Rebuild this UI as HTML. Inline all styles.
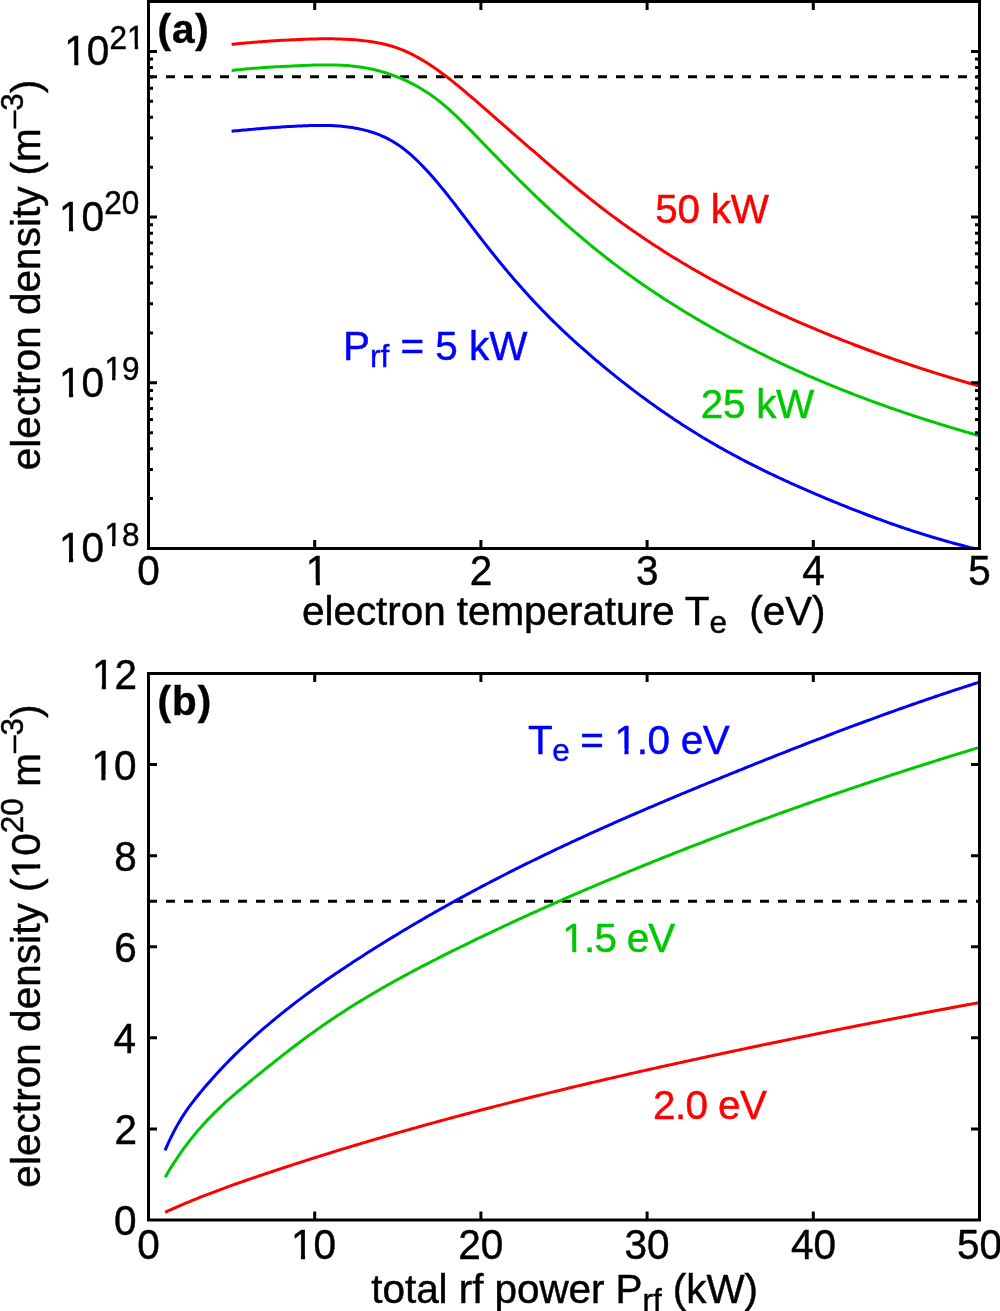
<!DOCTYPE html><html><head><meta charset="utf-8"><title>electron density plots</title><style>html,body{margin:0;padding:0;background:#fff;overflow:hidden;}svg{display:block;will-change:transform;}</style></head><body>
<svg width="1000" height="1311" viewBox="0 0 1000 1311" font-family='"Liberation Sans", sans-serif'>
<defs><clipPath id="ca"><rect x="150" y="3" width="828" height="544"/></clipPath><clipPath id="cb"><rect x="150" y="675" width="828" height="544"/></clipPath></defs>
<g clip-path="url(#ca)" fill="none" stroke-width="3" stroke-linejoin="round">
<path d="M148,76.8 H980" stroke="#000" stroke-dasharray="9 9"/>
<path d="M231.60,44.36 L233.60,44.15 L235.60,43.95 L237.60,43.75 L239.60,43.56 L241.60,43.36 L243.60,43.18 L245.60,42.99 L247.60,42.82 L249.60,42.64 L251.60,42.47 L253.60,42.30 L255.60,42.14 L257.60,41.98 L259.60,41.82 L261.60,41.67 L263.60,41.52 L265.60,41.38 L267.60,41.24 L269.60,41.10 L271.60,40.96 L273.60,40.83 L275.60,40.71 L277.60,40.58 L279.60,40.46 L281.60,40.35 L283.60,40.24 L285.60,40.13 L287.60,40.02 L289.60,39.92 L291.60,39.82 L293.60,39.73 L295.60,39.64 L297.60,39.55 L299.60,39.46 L301.60,39.38 L303.60,39.30 L305.60,39.23 L307.60,39.16 L309.60,39.10 L311.60,39.04 L313.60,38.98 L315.60,38.93 L317.60,38.89 L319.60,38.86 L321.60,38.83 L323.60,38.81 L325.60,38.80 L327.60,38.80 L329.60,38.80 L331.60,38.82 L333.60,38.84 L335.60,38.88 L337.60,38.92 L339.60,38.98 L341.60,39.05 L343.60,39.13 L345.60,39.22 L347.60,39.32 L349.60,39.44 L351.60,39.57 L353.60,39.71 L355.60,39.86 L357.60,40.04 L359.60,40.22 L361.60,40.42 L363.60,40.64 L365.60,40.87 L367.60,41.13 L369.60,41.40 L371.60,41.70 L373.60,42.02 L375.60,42.36 L377.60,42.73 L379.60,43.13 L381.60,43.55 L383.60,44.00 L385.60,44.49 L387.60,45.01 L389.60,45.56 L391.60,46.14 L393.60,46.76 L395.60,47.42 L397.60,48.12 L399.60,48.86 L401.60,49.64 L403.60,50.46 L405.60,51.32 L407.60,52.23 L409.60,53.17 L411.60,54.15 L413.60,55.16 L415.60,56.22 L417.60,57.31 L419.60,58.43 L421.60,59.59 L423.60,60.78 L425.60,62.01 L427.60,63.27 L429.60,64.56 L431.60,65.88 L433.60,67.23 L435.60,68.61 L437.60,70.02 L439.60,71.45 L441.60,72.92 L443.60,74.41 L445.60,75.92 L447.60,77.46 L449.60,79.02 L451.60,80.60 L453.60,82.20 L455.60,83.81 L457.60,85.45 L459.60,87.10 L461.60,88.76 L463.60,90.44 L465.60,92.13 L467.60,93.83 L469.60,95.54 L471.60,97.25 L473.60,98.98 L475.60,100.71 L477.60,102.44 L479.60,104.18 L481.60,105.91 L483.60,107.65 L485.60,109.39 L487.60,111.13 L489.60,112.88 L491.60,114.62 L493.60,116.36 L495.60,118.11 L497.60,119.85 L499.60,121.60 L501.60,123.34 L503.60,125.09 L505.60,126.83 L507.60,128.58 L509.60,130.33 L511.60,132.07 L513.60,133.82 L515.60,135.56 L517.60,137.31 L519.60,139.05 L521.60,140.80 L523.60,142.54 L525.60,144.28 L527.60,146.02 L529.60,147.76 L531.60,149.50 L533.60,151.24 L535.60,152.98 L537.60,154.71 L539.60,156.44 L541.60,158.18 L543.60,159.90 L545.60,161.63 L547.60,163.35 L549.60,165.07 L551.60,166.78 L553.60,168.49 L555.60,170.20 L557.60,171.90 L559.60,173.60 L561.60,175.29 L563.60,176.98 L565.60,178.66 L567.60,180.34 L569.60,182.01 L571.60,183.68 L573.60,185.34 L575.60,186.99 L577.60,188.64 L579.60,190.28 L581.60,191.91 L583.60,193.53 L585.60,195.15 L587.60,196.76 L589.60,198.36 L591.60,199.95 L593.60,201.53 L595.60,203.10 L597.60,204.67 L599.60,206.22 L601.60,207.77 L603.60,209.30 L605.60,210.83 L607.60,212.35 L609.60,213.85 L611.60,215.35 L613.60,216.84 L615.60,218.32 L617.60,219.79 L619.60,221.25 L621.60,222.70 L623.60,224.14 L625.60,225.57 L627.60,226.99 L629.60,228.41 L631.60,229.81 L633.60,231.21 L635.60,232.60 L637.60,233.98 L639.60,235.35 L641.60,236.71 L643.60,238.06 L645.60,239.41 L647.60,240.75 L649.60,242.08 L651.60,243.40 L653.60,244.71 L655.60,246.01 L657.60,247.31 L659.60,248.60 L661.60,249.88 L663.60,251.15 L665.60,252.41 L667.60,253.67 L669.60,254.92 L671.60,256.16 L673.60,257.40 L675.60,258.62 L677.60,259.84 L679.60,261.05 L681.60,262.26 L683.60,263.45 L685.60,264.64 L687.60,265.83 L689.60,267.00 L691.60,268.17 L693.60,269.33 L695.60,270.49 L697.60,271.64 L699.60,272.78 L701.60,273.91 L703.60,275.04 L705.60,276.16 L707.60,277.28 L709.60,278.39 L711.60,279.49 L713.60,280.59 L715.60,281.68 L717.60,282.76 L719.60,283.84 L721.60,284.91 L723.60,285.97 L725.60,287.03 L727.60,288.08 L729.60,289.13 L731.60,290.17 L733.60,291.21 L735.60,292.24 L737.60,293.26 L739.60,294.28 L741.60,295.29 L743.60,296.30 L745.60,297.30 L747.60,298.29 L749.60,299.28 L751.60,300.27 L753.60,301.25 L755.60,302.22 L757.60,303.19 L759.60,304.16 L761.60,305.11 L763.60,306.07 L765.60,307.02 L767.60,307.96 L769.60,308.90 L771.60,309.83 L773.60,310.76 L775.60,311.68 L777.60,312.60 L779.60,313.52 L781.60,314.43 L783.60,315.33 L785.60,316.23 L787.60,317.13 L789.60,318.02 L791.60,318.91 L793.60,319.79 L795.60,320.67 L797.60,321.54 L799.60,322.41 L801.60,323.28 L803.60,324.14 L805.60,325.00 L807.60,325.85 L809.60,326.71 L811.60,327.55 L813.60,328.39 L815.60,329.23 L817.60,330.07 L819.60,330.90 L821.60,331.73 L823.60,332.55 L825.60,333.37 L827.60,334.19 L829.60,335.00 L831.60,335.81 L833.60,336.61 L835.60,337.42 L837.60,338.22 L839.60,339.01 L841.60,339.80 L843.60,340.59 L845.60,341.37 L847.60,342.16 L849.60,342.93 L851.60,343.71 L853.60,344.48 L855.60,345.24 L857.60,346.01 L859.60,346.77 L861.60,347.52 L863.60,348.27 L865.60,349.02 L867.60,349.77 L869.60,350.51 L871.60,351.25 L873.60,351.98 L875.60,352.72 L877.60,353.44 L879.60,354.17 L881.60,354.89 L883.60,355.61 L885.60,356.32 L887.60,357.03 L889.60,357.74 L891.60,358.44 L893.60,359.14 L895.60,359.84 L897.60,360.53 L899.60,361.22 L901.60,361.91 L903.60,362.59 L905.60,363.27 L907.60,363.95 L909.60,364.62 L911.60,365.29 L913.60,365.96 L915.60,366.62 L917.60,367.28 L919.60,367.94 L921.60,368.59 L923.60,369.24 L925.60,369.89 L927.60,370.53 L929.60,371.17 L931.60,371.80 L933.60,372.44 L935.60,373.07 L937.60,373.69 L939.60,374.32 L941.60,374.93 L943.60,375.55 L945.60,376.16 L947.60,376.77 L949.60,377.38 L951.60,377.98 L953.60,378.58 L955.60,379.18 L957.60,379.77 L959.60,380.36 L961.60,380.95 L963.60,381.53 L965.60,382.11 L967.60,382.69 L969.60,383.26 L971.60,383.83 L973.60,384.40 L975.60,384.96 L977.60,385.52 L979.50,386.05" stroke="#ff0000"/>
<path d="M231.60,70.48 L233.60,70.26 L235.60,70.04 L237.60,69.83 L239.60,69.62 L241.60,69.42 L243.60,69.23 L245.60,69.04 L247.60,68.86 L249.60,68.69 L251.60,68.52 L253.60,68.35 L255.60,68.19 L257.60,68.04 L259.60,67.89 L261.60,67.75 L263.60,67.61 L265.60,67.47 L267.60,67.34 L269.60,67.22 L271.60,67.09 L273.60,66.97 L275.60,66.86 L277.60,66.74 L279.60,66.64 L281.60,66.53 L283.60,66.42 L285.60,66.32 L287.60,66.22 L289.60,66.13 L291.60,66.03 L293.60,65.94 L295.60,65.85 L297.60,65.76 L299.60,65.67 L301.60,65.58 L303.60,65.50 L305.60,65.41 L307.60,65.33 L309.60,65.26 L311.60,65.19 L313.60,65.12 L315.60,65.06 L317.60,65.01 L319.60,64.97 L321.60,64.93 L323.60,64.90 L325.60,64.89 L327.60,64.88 L329.60,64.89 L331.60,64.91 L333.60,64.94 L335.60,64.99 L337.60,65.05 L339.60,65.13 L341.60,65.22 L343.60,65.33 L345.60,65.46 L347.60,65.61 L349.60,65.77 L351.60,65.96 L353.60,66.17 L355.60,66.40 L357.60,66.65 L359.60,66.92 L361.60,67.22 L363.60,67.55 L365.60,67.89 L367.60,68.27 L369.60,68.67 L371.60,69.09 L373.60,69.54 L375.60,70.02 L377.60,70.52 L379.60,71.05 L381.60,71.61 L383.60,72.19 L385.60,72.80 L387.60,73.44 L389.60,74.11 L391.60,74.80 L393.60,75.53 L395.60,76.28 L397.60,77.06 L399.60,77.87 L401.60,78.71 L403.60,79.58 L405.60,80.49 L407.60,81.42 L409.60,82.39 L411.60,83.39 L413.60,84.43 L415.60,85.50 L417.60,86.61 L419.60,87.76 L421.60,88.94 L423.60,90.17 L425.60,91.43 L427.60,92.74 L429.60,94.08 L431.60,95.47 L433.60,96.91 L435.60,98.38 L437.60,99.91 L439.60,101.48 L441.60,103.09 L443.60,104.75 L445.60,106.46 L447.60,108.20 L449.60,109.98 L451.60,111.80 L453.60,113.65 L455.60,115.53 L457.60,117.45 L459.60,119.38 L461.60,121.34 L463.60,123.33 L465.60,125.33 L467.60,127.34 L469.60,129.38 L471.60,131.42 L473.60,133.47 L475.60,135.53 L477.60,137.60 L479.60,139.67 L481.60,141.73 L483.60,143.80 L485.60,145.86 L487.60,147.93 L489.60,149.99 L491.60,152.05 L493.60,154.10 L495.60,156.16 L497.60,158.21 L499.60,160.26 L501.60,162.30 L503.60,164.34 L505.60,166.37 L507.60,168.40 L509.60,170.42 L511.60,172.44 L513.60,174.45 L515.60,176.46 L517.60,178.46 L519.60,180.45 L521.60,182.43 L523.60,184.41 L525.60,186.38 L527.60,188.34 L529.60,190.29 L531.60,192.23 L533.60,194.16 L535.60,196.09 L537.60,198.00 L539.60,199.91 L541.60,201.80 L543.60,203.69 L545.60,205.56 L547.60,207.43 L549.60,209.29 L551.60,211.14 L553.60,212.97 L555.60,214.80 L557.60,216.62 L559.60,218.43 L561.60,220.23 L563.60,222.02 L565.60,223.79 L567.60,225.56 L569.60,227.32 L571.60,229.07 L573.60,230.81 L575.60,232.54 L577.60,234.25 L579.60,235.96 L581.60,237.66 L583.60,239.34 L585.60,241.02 L587.60,242.68 L589.60,244.34 L591.60,245.98 L593.60,247.62 L595.60,249.24 L597.60,250.85 L599.60,252.45 L601.60,254.04 L603.60,255.62 L605.60,257.19 L607.60,258.75 L609.60,260.29 L611.60,261.83 L613.60,263.36 L615.60,264.87 L617.60,266.38 L619.60,267.87 L621.60,269.36 L623.60,270.84 L625.60,272.30 L627.60,273.76 L629.60,275.21 L631.60,276.64 L633.60,278.07 L635.60,279.49 L637.60,280.90 L639.60,282.30 L641.60,283.69 L643.60,285.08 L645.60,286.45 L647.60,287.81 L649.60,289.17 L651.60,290.52 L653.60,291.86 L655.60,293.19 L657.60,294.51 L659.60,295.83 L661.60,297.13 L663.60,298.43 L665.60,299.72 L667.60,301.00 L669.60,302.28 L671.60,303.55 L673.60,304.81 L675.60,306.06 L677.60,307.31 L679.60,308.54 L681.60,309.78 L683.60,311.00 L685.60,312.22 L687.60,313.43 L689.60,314.63 L691.60,315.83 L693.60,317.02 L695.60,318.20 L697.60,319.38 L699.60,320.55 L701.60,321.72 L703.60,322.88 L705.60,324.03 L707.60,325.18 L709.60,326.32 L711.60,327.45 L713.60,328.58 L715.60,329.71 L717.60,330.82 L719.60,331.94 L721.60,333.04 L723.60,334.14 L725.60,335.24 L727.60,336.32 L729.60,337.41 L731.60,338.48 L733.60,339.55 L735.60,340.62 L737.60,341.68 L739.60,342.73 L741.60,343.78 L743.60,344.82 L745.60,345.86 L747.60,346.89 L749.60,347.92 L751.60,348.94 L753.60,349.95 L755.60,350.96 L757.60,351.97 L759.60,352.97 L761.60,353.96 L763.60,354.95 L765.60,355.93 L767.60,356.91 L769.60,357.88 L771.60,358.85 L773.60,359.81 L775.60,360.76 L777.60,361.72 L779.60,362.66 L781.60,363.60 L783.60,364.54 L785.60,365.47 L787.60,366.40 L789.60,367.32 L791.60,368.23 L793.60,369.14 L795.60,370.05 L797.60,370.95 L799.60,371.85 L801.60,372.74 L803.60,373.63 L805.60,374.51 L807.60,375.38 L809.60,376.26 L811.60,377.12 L813.60,377.99 L815.60,378.85 L817.60,379.70 L819.60,380.55 L821.60,381.39 L823.60,382.23 L825.60,383.07 L827.60,383.90 L829.60,384.72 L831.60,385.54 L833.60,386.36 L835.60,387.17 L837.60,387.98 L839.60,388.79 L841.60,389.59 L843.60,390.38 L845.60,391.17 L847.60,391.96 L849.60,392.74 L851.60,393.52 L853.60,394.29 L855.60,395.06 L857.60,395.83 L859.60,396.59 L861.60,397.35 L863.60,398.10 L865.60,398.85 L867.60,399.60 L869.60,400.34 L871.60,401.08 L873.60,401.81 L875.60,402.54 L877.60,403.27 L879.60,403.99 L881.60,404.71 L883.60,405.42 L885.60,406.14 L887.60,406.84 L889.60,407.55 L891.60,408.25 L893.60,408.94 L895.60,409.64 L897.60,410.32 L899.60,411.01 L901.60,411.69 L903.60,412.37 L905.60,413.05 L907.60,413.72 L909.60,414.39 L911.60,415.05 L913.60,415.71 L915.60,416.37 L917.60,417.03 L919.60,417.68 L921.60,418.32 L923.60,418.97 L925.60,419.61 L927.60,420.25 L929.60,420.89 L931.60,421.52 L933.60,422.15 L935.60,422.77 L937.60,423.40 L939.60,424.02 L941.60,424.63 L943.60,425.25 L945.60,425.86 L947.60,426.47 L949.60,427.07 L951.60,427.68 L953.60,428.28 L955.60,428.87 L957.60,429.47 L959.60,430.06 L961.60,430.65 L963.60,431.23 L965.60,431.82 L967.60,432.40 L969.60,432.98 L971.60,433.55 L973.60,434.12 L975.60,434.69 L977.60,435.26 L979.50,435.80" stroke="#00c800"/>
<path d="M231.60,131.22 L233.60,131.03 L235.60,130.84 L237.60,130.65 L239.60,130.46 L241.60,130.27 L243.60,130.09 L245.60,129.90 L247.60,129.72 L249.60,129.54 L251.60,129.37 L253.60,129.19 L255.60,129.02 L257.60,128.84 L259.60,128.68 L261.60,128.51 L263.60,128.34 L265.60,128.18 L267.60,128.03 L269.60,127.87 L271.60,127.72 L273.60,127.57 L275.60,127.42 L277.60,127.28 L279.60,127.14 L281.60,127.01 L283.60,126.87 L285.60,126.75 L287.60,126.62 L289.60,126.50 L291.60,126.39 L293.60,126.28 L295.60,126.17 L297.60,126.07 L299.60,125.97 L301.60,125.88 L303.60,125.79 L305.60,125.71 L307.60,125.64 L309.60,125.57 L311.60,125.51 L313.60,125.46 L315.60,125.43 L317.60,125.40 L319.60,125.39 L321.60,125.39 L323.60,125.40 L325.60,125.43 L327.60,125.47 L329.60,125.53 L331.60,125.61 L333.60,125.70 L335.60,125.82 L337.60,125.95 L339.60,126.11 L341.60,126.28 L343.60,126.48 L345.60,126.70 L347.60,126.94 L349.60,127.21 L351.60,127.51 L353.60,127.83 L355.60,128.18 L357.60,128.56 L359.60,128.96 L361.60,129.40 L363.60,129.87 L365.60,130.37 L367.60,130.90 L369.60,131.48 L371.60,132.09 L373.60,132.74 L375.60,133.44 L377.60,134.18 L379.60,134.97 L381.60,135.81 L383.60,136.70 L385.60,137.64 L387.60,138.64 L389.60,139.69 L391.60,140.80 L393.60,141.97 L395.60,143.21 L397.60,144.51 L399.60,145.87 L401.60,147.31 L403.60,148.81 L405.60,150.37 L407.60,152.00 L409.60,153.69 L411.60,155.44 L413.60,157.25 L415.60,159.11 L417.60,161.03 L419.60,163.00 L421.60,165.03 L423.60,167.10 L425.60,169.21 L427.60,171.37 L429.60,173.58 L431.60,175.82 L433.60,178.11 L435.60,180.43 L437.60,182.79 L439.60,185.18 L441.60,187.61 L443.60,190.06 L445.60,192.54 L447.60,195.05 L449.60,197.58 L451.60,200.13 L453.60,202.70 L455.60,205.28 L457.60,207.88 L459.60,210.49 L461.60,213.11 L463.60,215.74 L465.60,218.37 L467.60,221.00 L469.60,223.63 L471.60,226.27 L473.60,228.89 L475.60,231.52 L477.60,234.13 L479.60,236.73 L481.60,239.32 L483.60,241.89 L485.60,244.45 L487.60,247.00 L489.60,249.53 L491.60,252.04 L493.60,254.55 L495.60,257.03 L497.60,259.50 L499.60,261.96 L501.60,264.39 L503.60,266.82 L505.60,269.22 L507.60,271.61 L509.60,273.98 L511.60,276.34 L513.60,278.68 L515.60,281.00 L517.60,283.30 L519.60,285.58 L521.60,287.85 L523.60,290.09 L525.60,292.32 L527.60,294.53 L529.60,296.72 L531.60,298.89 L533.60,301.05 L535.60,303.18 L537.60,305.29 L539.60,307.39 L541.60,309.47 L543.60,311.53 L545.60,313.57 L547.60,315.60 L549.60,317.61 L551.60,319.60 L553.60,321.57 L555.60,323.53 L557.60,325.48 L559.60,327.41 L561.60,329.32 L563.60,331.22 L565.60,333.10 L567.60,334.97 L569.60,336.83 L571.60,338.67 L573.60,340.50 L575.60,342.32 L577.60,344.12 L579.60,345.91 L581.60,347.69 L583.60,349.45 L585.60,351.21 L587.60,352.95 L589.60,354.68 L591.60,356.40 L593.60,358.11 L595.60,359.81 L597.60,361.50 L599.60,363.18 L601.60,364.86 L603.60,366.52 L605.60,368.17 L607.60,369.81 L609.60,371.45 L611.60,373.07 L613.60,374.69 L615.60,376.30 L617.60,377.89 L619.60,379.48 L621.60,381.06 L623.60,382.63 L625.60,384.19 L627.60,385.74 L629.60,387.28 L631.60,388.82 L633.60,390.34 L635.60,391.85 L637.60,393.36 L639.60,394.85 L641.60,396.34 L643.60,397.82 L645.60,399.29 L647.60,400.75 L649.60,402.20 L651.60,403.64 L653.60,405.07 L655.60,406.49 L657.60,407.90 L659.60,409.31 L661.60,410.70 L663.60,412.09 L665.60,413.47 L667.60,414.84 L669.60,416.19 L671.60,417.54 L673.60,418.88 L675.60,420.22 L677.60,421.54 L679.60,422.85 L681.60,424.16 L683.60,425.45 L685.60,426.74 L687.60,428.01 L689.60,429.28 L691.60,430.54 L693.60,431.79 L695.60,433.03 L697.60,434.26 L699.60,435.49 L701.60,436.70 L703.60,437.91 L705.60,439.10 L707.60,440.29 L709.60,441.47 L711.60,442.64 L713.60,443.80 L715.60,444.95 L717.60,446.10 L719.60,447.24 L721.60,448.36 L723.60,449.49 L725.60,450.60 L727.60,451.70 L729.60,452.80 L731.60,453.89 L733.60,454.97 L735.60,456.05 L737.60,457.12 L739.60,458.18 L741.60,459.23 L743.60,460.27 L745.60,461.31 L747.60,462.35 L749.60,463.37 L751.60,464.39 L753.60,465.40 L755.60,466.41 L757.60,467.41 L759.60,468.40 L761.60,469.39 L763.60,470.37 L765.60,471.34 L767.60,472.31 L769.60,473.28 L771.60,474.23 L773.60,475.19 L775.60,476.13 L777.60,477.07 L779.60,478.01 L781.60,478.94 L783.60,479.86 L785.60,480.78 L787.60,481.70 L789.60,482.61 L791.60,483.51 L793.60,484.41 L795.60,485.31 L797.60,486.20 L799.60,487.09 L801.60,487.97 L803.60,488.85 L805.60,489.72 L807.60,490.59 L809.60,491.46 L811.60,492.32 L813.60,493.18 L815.60,494.04 L817.60,494.89 L819.60,495.74 L821.60,496.58 L823.60,497.42 L825.60,498.26 L827.60,499.09 L829.60,499.92 L831.60,500.75 L833.60,501.58 L835.60,502.40 L837.60,503.21 L839.60,504.03 L841.60,504.84 L843.60,505.64 L845.60,506.44 L847.60,507.24 L849.60,508.04 L851.60,508.83 L853.60,509.61 L855.60,510.39 L857.60,511.17 L859.60,511.95 L861.60,512.72 L863.60,513.48 L865.60,514.25 L867.60,515.00 L869.60,515.76 L871.60,516.51 L873.60,517.25 L875.60,517.99 L877.60,518.73 L879.60,519.46 L881.60,520.19 L883.60,520.92 L885.60,521.63 L887.60,522.35 L889.60,523.06 L891.60,523.76 L893.60,524.47 L895.60,525.16 L897.60,525.85 L899.60,526.54 L901.60,527.22 L903.60,527.90 L905.60,528.57 L907.60,529.24 L909.60,529.90 L911.60,530.56 L913.60,531.21 L915.60,531.86 L917.60,532.50 L919.60,533.14 L921.60,533.78 L923.60,534.40 L925.60,535.03 L927.60,535.64 L929.60,536.25 L931.60,536.86 L933.60,537.46 L935.60,538.06 L937.60,538.65 L939.60,539.23 L941.60,539.81 L943.60,540.39 L945.60,540.96 L947.60,541.52 L949.60,542.08 L951.60,542.63 L953.60,543.18 L955.60,543.72 L957.60,544.25 L959.60,544.78 L961.60,545.31 L963.60,545.82 L965.60,546.34 L967.60,546.84 L969.60,547.34 L971.60,547.84 L973.60,548.32 L975.60,548.81 L977.60,549.28 L979.60,549.75 L980.00,549.85" stroke="#0000ff"/>
</g>
<path d="M314.70,548.5 v-8.5 M314.70,1.5 v8.5 M480.90,548.5 v-8.5 M480.90,1.5 v8.5 M647.10,548.5 v-8.5 M647.10,1.5 v8.5 M813.30,548.5 v-8.5 M813.30,1.5 v8.5 M148.5,498.62 h4.5 M979.5,498.62 h-4.5 M148.5,469.44 h4.5 M979.5,469.44 h-4.5 M148.5,448.74 h4.5 M979.5,448.74 h-4.5 M148.5,432.68 h4.5 M979.5,432.68 h-4.5 M148.5,419.56 h4.5 M979.5,419.56 h-4.5 M148.5,408.46 h4.5 M979.5,408.46 h-4.5 M148.5,398.85 h4.5 M979.5,398.85 h-4.5 M148.5,390.38 h4.5 M979.5,390.38 h-4.5 M148.5,382.79 h8.5 M979.5,382.79 h-8.5 M148.5,332.91 h4.5 M979.5,332.91 h-4.5 M148.5,303.73 h4.5 M979.5,303.73 h-4.5 M148.5,283.03 h4.5 M979.5,283.03 h-4.5 M148.5,266.97 h4.5 M979.5,266.97 h-4.5 M148.5,253.85 h4.5 M979.5,253.85 h-4.5 M148.5,242.76 h4.5 M979.5,242.76 h-4.5 M148.5,233.15 h4.5 M979.5,233.15 h-4.5 M148.5,224.67 h4.5 M979.5,224.67 h-4.5 M148.5,217.09 h8.5 M979.5,217.09 h-8.5 M148.5,167.21 h4.5 M979.5,167.21 h-4.5 M148.5,138.03 h4.5 M979.5,138.03 h-4.5 M148.5,117.32 h4.5 M979.5,117.32 h-4.5 M148.5,101.26 h4.5 M979.5,101.26 h-4.5 M148.5,88.14 h4.5 M979.5,88.14 h-4.5 M148.5,77.05 h4.5 M979.5,77.05 h-4.5 M148.5,67.44 h4.5 M979.5,67.44 h-4.5 M148.5,58.96 h4.5 M979.5,58.96 h-4.5 M148.5,51.38 h8.5 M979.5,51.38 h-8.5" stroke="#000" stroke-width="3" fill="none"/>
<rect x="148.5" y="1.5" width="831.0" height="547.0" fill="none" stroke="#000" stroke-width="3"/>
<g transform="translate(137.24,584.60) scale(1,1.05)"><text font-size="40.5" fill="#000" stroke="#000" stroke-width="0.45">0</text></g>
<g transform="translate(305.87,584.60) scale(1,1.05)"><text font-size="40.5" fill="#000" stroke="#000" stroke-width="0.45">1</text><rect x="1.49" y="-4.60" width="8.40" height="6.69" fill="#fff"/><rect x="14.06" y="-4.60" width="8.08" height="6.69" fill="#fff"/></g>
<g transform="translate(469.64,584.60) scale(1,1.05)"><text font-size="40.5" fill="#000" stroke="#000" stroke-width="0.45">2</text></g>
<g transform="translate(635.96,584.60) scale(1,1.05)"><text font-size="40.5" fill="#000" stroke="#000" stroke-width="0.45">3</text></g>
<g transform="translate(802.17,584.60) scale(1,1.05)"><text font-size="40.5" fill="#000" stroke="#000" stroke-width="0.45">4</text></g>
<g transform="translate(968.28,584.60) scale(1,1.05)"><text font-size="40.5" fill="#000" stroke="#000" stroke-width="0.45">5</text></g>
<g transform="translate(64.32,65.18) scale(1,1.05)"><text font-size="40.5" fill="#000" stroke="#000" stroke-width="0.45">10</text><rect x="1.49" y="-4.60" width="8.40" height="6.69" fill="#fff"/><rect x="14.06" y="-4.60" width="8.08" height="6.69" fill="#fff"/></g>
<g transform="translate(109.60,48.78) scale(1,1.05)"><text font-size="31.5" fill="#000" stroke="#000" stroke-width="0.45">21</text><rect x="18.32" y="-3.96" width="6.82" height="6.05" fill="#fff"/><rect x="28.52" y="-3.96" width="6.58" height="6.05" fill="#fff"/></g>
<g transform="translate(59.07,230.89) scale(1,1.05)"><text font-size="40.5" fill="#000" stroke="#000" stroke-width="0.45">10</text><rect x="1.49" y="-4.60" width="8.40" height="6.69" fill="#fff"/><rect x="14.06" y="-4.60" width="8.08" height="6.69" fill="#fff"/></g>
<g transform="translate(104.30,214.49) scale(1,1.05)"><text font-size="31.5" fill="#000" stroke="#000" stroke-width="0.45">20</text></g>
<g transform="translate(59.07,396.59) scale(1,1.05)"><text font-size="40.5" fill="#000" stroke="#000" stroke-width="0.45">10</text><rect x="1.49" y="-4.60" width="8.40" height="6.69" fill="#fff"/><rect x="14.06" y="-4.60" width="8.08" height="6.69" fill="#fff"/></g>
<g transform="translate(104.46,380.19) scale(1,1.05)"><text font-size="31.5" fill="#000" stroke="#000" stroke-width="0.45">19</text><rect x="0.80" y="-3.96" width="6.82" height="6.05" fill="#fff"/><rect x="11.00" y="-3.96" width="6.58" height="6.05" fill="#fff"/></g>
<g transform="translate(59.07,562.30) scale(1,1.05)"><text font-size="40.5" fill="#000" stroke="#000" stroke-width="0.45">10</text><rect x="1.49" y="-4.60" width="8.40" height="6.69" fill="#fff"/><rect x="14.06" y="-4.60" width="8.08" height="6.69" fill="#fff"/></g>
<g transform="translate(104.40,545.90) scale(1,1.05)"><text font-size="31.5" fill="#000" stroke="#000" stroke-width="0.45">18</text><rect x="0.80" y="-3.96" width="6.82" height="6.05" fill="#fff"/><rect x="11.00" y="-3.96" width="6.58" height="6.05" fill="#fff"/></g>
<g transform="translate(302.12,625.10) scale(1,1.015)"><text font-size="40.5" fill="#000" stroke="#000" stroke-width="0.45" letter-spacing="-0.07">electron temperature T<tspan font-size="31.5" dy="7.39">e</tspan><tspan font-size="40.5" dy="-7.39">&#160;&#160;(eV)</tspan></text></g>
<g transform="translate(39.60,0) rotate(-90) translate(-470.23,0) scale(1,1.015)"><text font-size="40.5" fill="#000" stroke="#000" stroke-width="0.45">electron density (m<tspan font-size="31.5" dy="-15.96">–3</tspan><tspan font-size="40.5" dy="15.96">)</tspan></text></g>
<g transform="translate(157.58,43.40) scale(1,1.015)"><text font-size="40.5" fill="#000" stroke="#000" stroke-width="0.45" font-weight="bold" letter-spacing="0.87">(a)</text></g>
<g transform="translate(655.28,223.00) scale(1,1.015)"><text font-size="40.5" fill="#ff0000" stroke="#ff0000" stroke-width="0.45" letter-spacing="-0.28">50 kW</text></g>
<g transform="translate(700.65,418.30) scale(1,1.015)"><text font-size="40.5" fill="#00c800" stroke="#00c800" stroke-width="0.45" letter-spacing="-0.27">25 kW</text></g>
<g transform="translate(342.93,359.50) scale(1,1.015)"><text font-size="40.5" fill="#0000ff" stroke="#0000ff" stroke-width="0.45">P<tspan font-size="31.5" dy="7.59">rf</tspan><tspan font-size="40.5" dy="-7.59"> = 5 kW</tspan></text></g>
<g clip-path="url(#cb)" fill="none" stroke-width="3" stroke-linejoin="round">
<path d="M148,901.21 H980" stroke="#000" stroke-dasharray="9 9"/>
<path d="M165.10,1150.29 L167.10,1145.66 L169.10,1141.25 L171.10,1137.05 L173.10,1133.05 L175.10,1129.24 L177.10,1125.61 L179.10,1122.15 L181.10,1118.83 L183.10,1115.66 L185.10,1112.63 L187.10,1109.70 L189.10,1106.89 L191.10,1104.17 L193.10,1101.54 L195.10,1098.97 L197.10,1096.47 L199.10,1094.01 L201.10,1091.59 L203.10,1089.20 L205.10,1086.84 L207.10,1084.51 L209.10,1082.21 L211.10,1079.94 L213.10,1077.69 L215.10,1075.48 L217.10,1073.28 L219.10,1071.12 L221.10,1068.98 L223.10,1066.87 L225.10,1064.78 L227.10,1062.71 L229.10,1060.67 L231.10,1058.65 L233.10,1056.65 L235.10,1054.67 L237.10,1052.72 L239.10,1050.78 L241.10,1048.87 L243.10,1046.97 L245.10,1045.09 L247.10,1043.24 L249.10,1041.39 L251.10,1039.57 L253.10,1037.76 L255.10,1035.97 L257.10,1034.19 L259.10,1032.43 L261.10,1030.68 L263.10,1028.95 L265.10,1027.23 L267.10,1025.52 L269.10,1023.83 L271.10,1022.14 L273.10,1020.48 L275.10,1018.82 L277.10,1017.18 L279.10,1015.55 L281.10,1013.93 L283.10,1012.32 L285.10,1010.73 L287.10,1009.14 L289.10,1007.57 L291.10,1006.01 L293.10,1004.46 L295.10,1002.92 L297.10,1001.39 L299.10,999.87 L301.10,998.37 L303.10,996.87 L305.10,995.38 L307.10,993.90 L309.10,992.43 L311.10,990.97 L313.10,989.52 L315.10,988.08 L317.10,986.65 L319.10,985.22 L321.10,983.81 L323.10,982.40 L325.10,981.00 L327.10,979.60 L329.10,978.22 L331.10,976.84 L333.10,975.47 L335.10,974.11 L337.10,972.75 L339.10,971.40 L341.10,970.06 L343.10,968.72 L345.10,967.39 L347.10,966.06 L349.10,964.74 L351.10,963.43 L353.10,962.12 L355.10,960.81 L357.10,959.51 L359.10,958.22 L361.10,956.93 L363.10,955.64 L365.10,954.36 L367.10,953.08 L369.10,951.81 L371.10,950.54 L373.10,949.28 L375.10,948.02 L377.10,946.77 L379.10,945.51 L381.10,944.27 L383.10,943.02 L385.10,941.79 L387.10,940.55 L389.10,939.32 L391.10,938.10 L393.10,936.88 L395.10,935.66 L397.10,934.44 L399.10,933.24 L401.10,932.03 L403.10,930.83 L405.10,929.63 L407.10,928.44 L409.10,927.25 L411.10,926.06 L413.10,924.88 L415.10,923.71 L417.10,922.53 L419.10,921.36 L421.10,920.20 L423.10,919.04 L425.10,917.88 L427.10,916.72 L429.10,915.57 L431.10,914.43 L433.10,913.28 L435.10,912.14 L437.10,911.01 L439.10,909.88 L441.10,908.75 L443.10,907.62 L445.10,906.50 L447.10,905.39 L449.10,904.27 L451.10,903.16 L453.10,902.06 L455.10,900.95 L457.10,899.86 L459.10,898.76 L461.10,897.67 L463.10,896.58 L465.10,895.49 L467.10,894.41 L469.10,893.33 L471.10,892.26 L473.10,891.19 L475.10,890.12 L477.10,889.05 L479.10,887.99 L481.10,886.93 L483.10,885.88 L485.10,884.83 L487.10,883.78 L489.10,882.73 L491.10,881.69 L493.10,880.65 L495.10,879.62 L497.10,878.58 L499.10,877.55 L501.10,876.53 L503.10,875.50 L505.10,874.48 L507.10,873.47 L509.10,872.45 L511.10,871.44 L513.10,870.43 L515.10,869.43 L517.10,868.43 L519.10,867.43 L521.10,866.43 L523.10,865.44 L525.10,864.45 L527.10,863.46 L529.10,862.47 L531.10,861.49 L533.10,860.51 L535.10,859.54 L537.10,858.56 L539.10,857.59 L541.10,856.62 L543.10,855.66 L545.10,854.69 L547.10,853.73 L549.10,852.78 L551.10,851.82 L553.10,850.87 L555.10,849.92 L557.10,848.97 L559.10,848.02 L561.10,847.08 L563.10,846.14 L565.10,845.20 L567.10,844.27 L569.10,843.34 L571.10,842.41 L573.10,841.48 L575.10,840.55 L577.10,839.63 L579.10,838.71 L581.10,837.79 L583.10,836.87 L585.10,835.96 L587.10,835.04 L589.10,834.13 L591.10,833.23 L593.10,832.32 L595.10,831.42 L597.10,830.51 L599.10,829.61 L601.10,828.72 L603.10,827.82 L605.10,826.93 L607.10,826.04 L609.10,825.15 L611.10,824.26 L613.10,823.37 L615.10,822.49 L617.10,821.61 L619.10,820.73 L621.10,819.85 L623.10,818.97 L625.10,818.09 L627.10,817.22 L629.10,816.35 L631.10,815.48 L633.10,814.61 L635.10,813.75 L637.10,812.88 L639.10,812.02 L641.10,811.16 L643.10,810.30 L645.10,809.44 L647.10,808.58 L649.10,807.72 L651.10,806.87 L653.10,806.02 L655.10,805.17 L657.10,804.32 L659.10,803.47 L661.10,802.62 L663.10,801.78 L665.10,800.93 L667.10,800.09 L669.10,799.25 L671.10,798.41 L673.10,797.57 L675.10,796.73 L677.10,795.89 L679.10,795.06 L681.10,794.22 L683.10,793.39 L685.10,792.56 L687.10,791.73 L689.10,790.90 L691.10,790.07 L693.10,789.24 L695.10,788.41 L697.10,787.59 L699.10,786.76 L701.10,785.94 L703.10,785.11 L705.10,784.29 L707.10,783.47 L709.10,782.65 L711.10,781.83 L713.10,781.01 L715.10,780.19 L717.10,779.37 L719.10,778.56 L721.10,777.74 L723.10,776.93 L725.10,776.11 L727.10,775.30 L729.10,774.48 L731.10,773.67 L733.10,772.86 L735.10,772.05 L737.10,771.24 L739.10,770.43 L741.10,769.62 L743.10,768.81 L745.10,768.01 L747.10,767.20 L749.10,766.39 L751.10,765.59 L753.10,764.79 L755.10,763.98 L757.10,763.18 L759.10,762.38 L761.10,761.58 L763.10,760.78 L765.10,759.98 L767.10,759.19 L769.10,758.39 L771.10,757.60 L773.10,756.80 L775.10,756.01 L777.10,755.22 L779.10,754.42 L781.10,753.63 L783.10,752.84 L785.10,752.06 L787.10,751.27 L789.10,750.48 L791.10,749.70 L793.10,748.91 L795.10,748.13 L797.10,747.35 L799.10,746.57 L801.10,745.79 L803.10,745.01 L805.10,744.23 L807.10,743.46 L809.10,742.68 L811.10,741.91 L813.10,741.14 L815.10,740.37 L817.10,739.60 L819.10,738.83 L821.10,738.06 L823.10,737.29 L825.10,736.53 L827.10,735.76 L829.10,735.00 L831.10,734.24 L833.10,733.48 L835.10,732.72 L837.10,731.96 L839.10,731.21 L841.10,730.45 L843.10,729.70 L845.10,728.95 L847.10,728.20 L849.10,727.45 L851.10,726.70 L853.10,725.95 L855.10,725.21 L857.10,724.47 L859.10,723.72 L861.10,722.98 L863.10,722.24 L865.10,721.51 L867.10,720.77 L869.10,720.04 L871.10,719.30 L873.10,718.57 L875.10,717.84 L877.10,717.11 L879.10,716.39 L881.10,715.66 L883.10,714.94 L885.10,714.21 L887.10,713.49 L889.10,712.77 L891.10,712.06 L893.10,711.34 L895.10,710.63 L897.10,709.91 L899.10,709.20 L901.10,708.49 L903.10,707.79 L905.10,707.08 L907.10,706.38 L909.10,705.68 L911.10,704.97 L913.10,704.28 L915.10,703.58 L917.10,702.88 L919.10,702.19 L921.10,701.50 L923.10,700.81 L925.10,700.12 L927.10,699.43 L929.10,698.75 L931.10,698.07 L933.10,697.39 L935.10,696.71 L937.10,696.03 L939.10,695.35 L941.10,694.68 L943.10,694.01 L945.10,693.34 L947.10,692.67 L949.10,692.01 L951.10,691.34 L953.10,690.68 L955.10,690.02 L957.10,689.36 L959.10,688.71 L961.10,688.05 L963.10,687.40 L965.10,686.75 L967.10,686.11 L969.10,685.46 L971.10,684.82 L973.10,684.17 L975.10,683.53 L977.10,682.90 L979.10,682.26 L979.50,682.14" stroke="#0000ff"/>
<path d="M165.10,1177.32 L167.10,1173.91 L169.10,1170.58 L171.10,1167.33 L173.10,1164.16 L175.10,1161.07 L177.10,1158.06 L179.10,1155.11 L181.10,1152.24 L183.10,1149.44 L185.10,1146.70 L187.10,1144.03 L189.10,1141.42 L191.10,1138.86 L193.10,1136.37 L195.10,1133.93 L197.10,1131.55 L199.10,1129.22 L201.10,1126.94 L203.10,1124.70 L205.10,1122.51 L207.10,1120.36 L209.10,1118.26 L211.10,1116.20 L213.10,1114.17 L215.10,1112.18 L217.10,1110.23 L219.10,1108.31 L221.10,1106.42 L223.10,1104.55 L225.10,1102.72 L227.10,1100.91 L229.10,1099.13 L231.10,1097.37 L233.10,1095.63 L235.10,1093.90 L237.10,1092.20 L239.10,1090.51 L241.10,1088.83 L243.10,1087.16 L245.10,1085.50 L247.10,1083.86 L249.10,1082.21 L251.10,1080.57 L253.10,1078.94 L255.10,1077.30 L257.10,1075.67 L259.10,1074.05 L261.10,1072.43 L263.10,1070.81 L265.10,1069.20 L267.10,1067.59 L269.10,1065.99 L271.10,1064.40 L273.10,1062.80 L275.10,1061.22 L277.10,1059.64 L279.10,1058.06 L281.10,1056.50 L283.10,1054.94 L285.10,1053.38 L287.10,1051.83 L289.10,1050.29 L291.10,1048.76 L293.10,1047.23 L295.10,1045.71 L297.10,1044.20 L299.10,1042.69 L301.10,1041.20 L303.10,1039.71 L305.10,1038.23 L307.10,1036.76 L309.10,1035.30 L311.10,1033.85 L313.10,1032.41 L315.10,1030.97 L317.10,1029.55 L319.10,1028.14 L321.10,1026.73 L323.10,1025.34 L325.10,1023.95 L327.10,1022.58 L329.10,1021.22 L331.10,1019.86 L333.10,1018.52 L335.10,1017.18 L337.10,1015.86 L339.10,1014.54 L341.10,1013.23 L343.10,1011.93 L345.10,1010.64 L347.10,1009.36 L349.10,1008.09 L351.10,1006.82 L353.10,1005.57 L355.10,1004.32 L357.10,1003.08 L359.10,1001.85 L361.10,1000.62 L363.10,999.41 L365.10,998.20 L367.10,997.00 L369.10,995.80 L371.10,994.61 L373.10,993.43 L375.10,992.26 L377.10,991.10 L379.10,989.94 L381.10,988.78 L383.10,987.64 L385.10,986.50 L387.10,985.37 L389.10,984.24 L391.10,983.12 L393.10,982.00 L395.10,980.89 L397.10,979.79 L399.10,978.69 L401.10,977.60 L403.10,976.51 L405.10,975.43 L407.10,974.35 L409.10,973.28 L411.10,972.21 L413.10,971.15 L415.10,970.09 L417.10,969.04 L419.10,967.99 L421.10,966.94 L423.10,965.90 L425.10,964.87 L427.10,963.83 L429.10,962.81 L431.10,961.78 L433.10,960.76 L435.10,959.74 L437.10,958.72 L439.10,957.71 L441.10,956.70 L443.10,955.70 L445.10,954.69 L447.10,953.69 L449.10,952.70 L451.10,951.70 L453.10,950.71 L455.10,949.72 L457.10,948.73 L459.10,947.74 L461.10,946.76 L463.10,945.78 L465.10,944.80 L467.10,943.82 L469.10,942.85 L471.10,941.87 L473.10,940.90 L475.10,939.94 L477.10,938.97 L479.10,938.01 L481.10,937.05 L483.10,936.09 L485.10,935.13 L487.10,934.18 L489.10,933.23 L491.10,932.28 L493.10,931.33 L495.10,930.38 L497.10,929.44 L499.10,928.50 L501.10,927.56 L503.10,926.62 L505.10,925.69 L507.10,924.76 L509.10,923.83 L511.10,922.90 L513.10,921.97 L515.10,921.05 L517.10,920.13 L519.10,919.21 L521.10,918.29 L523.10,917.37 L525.10,916.46 L527.10,915.55 L529.10,914.64 L531.10,913.73 L533.10,912.82 L535.10,911.92 L537.10,911.02 L539.10,910.12 L541.10,909.22 L543.10,908.32 L545.10,907.43 L547.10,906.54 L549.10,905.65 L551.10,904.76 L553.10,903.87 L555.10,902.99 L557.10,902.10 L559.10,901.22 L561.10,900.34 L563.10,899.47 L565.10,898.59 L567.10,897.72 L569.10,896.85 L571.10,895.98 L573.10,895.11 L575.10,894.24 L577.10,893.38 L579.10,892.51 L581.10,891.65 L583.10,890.79 L585.10,889.93 L587.10,889.08 L589.10,888.22 L591.10,887.37 L593.10,886.52 L595.10,885.67 L597.10,884.82 L599.10,883.98 L601.10,883.13 L603.10,882.29 L605.10,881.45 L607.10,880.61 L609.10,879.77 L611.10,878.93 L613.10,878.10 L615.10,877.27 L617.10,876.43 L619.10,875.60 L621.10,874.78 L623.10,873.95 L625.10,873.12 L627.10,872.30 L629.10,871.48 L631.10,870.66 L633.10,869.84 L635.10,869.02 L637.10,868.20 L639.10,867.39 L641.10,866.57 L643.10,865.76 L645.10,864.95 L647.10,864.14 L649.10,863.33 L651.10,862.53 L653.10,861.72 L655.10,860.92 L657.10,860.11 L659.10,859.31 L661.10,858.51 L663.10,857.71 L665.10,856.92 L667.10,856.12 L669.10,855.33 L671.10,854.53 L673.10,853.74 L675.10,852.95 L677.10,852.16 L679.10,851.38 L681.10,850.59 L683.10,849.81 L685.10,849.02 L687.10,848.24 L689.10,847.46 L691.10,846.68 L693.10,845.90 L695.10,845.13 L697.10,844.35 L699.10,843.58 L701.10,842.80 L703.10,842.03 L705.10,841.26 L707.10,840.49 L709.10,839.73 L711.10,838.96 L713.10,838.20 L715.10,837.43 L717.10,836.67 L719.10,835.91 L721.10,835.15 L723.10,834.39 L725.10,833.64 L727.10,832.88 L729.10,832.13 L731.10,831.37 L733.10,830.62 L735.10,829.87 L737.10,829.12 L739.10,828.37 L741.10,827.63 L743.10,826.88 L745.10,826.14 L747.10,825.40 L749.10,824.65 L751.10,823.91 L753.10,823.18 L755.10,822.44 L757.10,821.70 L759.10,820.97 L761.10,820.23 L763.10,819.50 L765.10,818.77 L767.10,818.04 L769.10,817.31 L771.10,816.59 L773.10,815.86 L775.10,815.13 L777.10,814.41 L779.10,813.69 L781.10,812.97 L783.10,812.25 L785.10,811.53 L787.10,810.81 L789.10,810.10 L791.10,809.38 L793.10,808.67 L795.10,807.96 L797.10,807.25 L799.10,806.54 L801.10,805.83 L803.10,805.12 L805.10,804.41 L807.10,803.71 L809.10,803.01 L811.10,802.30 L813.10,801.60 L815.10,800.90 L817.10,800.20 L819.10,799.51 L821.10,798.81 L823.10,798.11 L825.10,797.42 L827.10,796.73 L829.10,796.04 L831.10,795.35 L833.10,794.66 L835.10,793.97 L837.10,793.28 L839.10,792.60 L841.10,791.91 L843.10,791.23 L845.10,790.55 L847.10,789.87 L849.10,789.19 L851.10,788.51 L853.10,787.83 L855.10,787.16 L857.10,786.48 L859.10,785.81 L861.10,785.13 L863.10,784.46 L865.10,783.79 L867.10,783.12 L869.10,782.46 L871.10,781.79 L873.10,781.12 L875.10,780.46 L877.10,779.80 L879.10,779.13 L881.10,778.47 L883.10,777.81 L885.10,777.16 L887.10,776.50 L889.10,775.84 L891.10,775.19 L893.10,774.53 L895.10,773.88 L897.10,773.23 L899.10,772.58 L901.10,771.93 L903.10,771.28 L905.10,770.63 L907.10,769.99 L909.10,769.34 L911.10,768.70 L913.10,768.05 L915.10,767.41 L917.10,766.77 L919.10,766.13 L921.10,765.49 L923.10,764.86 L925.10,764.22 L927.10,763.59 L929.10,762.95 L931.10,762.32 L933.10,761.69 L935.10,761.06 L937.10,760.43 L939.10,759.80 L941.10,759.17 L943.10,758.55 L945.10,757.92 L947.10,757.30 L949.10,756.67 L951.10,756.05 L953.10,755.43 L955.10,754.81 L957.10,754.19 L959.10,753.58 L961.10,752.96 L963.10,752.34 L965.10,751.73 L967.10,751.12 L969.10,750.50 L971.10,749.89 L973.10,749.28 L975.10,748.67 L977.10,748.06 L979.10,747.46 L979.50,747.34" stroke="#00c800"/>
<path d="M165.10,1212.30 L167.10,1211.38 L169.10,1210.47 L171.10,1209.56 L173.10,1208.67 L175.10,1207.78 L177.10,1206.91 L179.10,1206.03 L181.10,1205.17 L183.10,1204.32 L185.10,1203.47 L187.10,1202.63 L189.10,1201.79 L191.10,1200.97 L193.10,1200.15 L195.10,1199.33 L197.10,1198.53 L199.10,1197.73 L201.10,1196.93 L203.10,1196.14 L205.10,1195.36 L207.10,1194.59 L209.10,1193.81 L211.10,1193.05 L213.10,1192.29 L215.10,1191.53 L217.10,1190.78 L219.10,1190.04 L221.10,1189.30 L223.10,1188.56 L225.10,1187.83 L227.10,1187.11 L229.10,1186.38 L231.10,1185.66 L233.10,1184.95 L235.10,1184.24 L237.10,1183.53 L239.10,1182.83 L241.10,1182.13 L243.10,1181.43 L245.10,1180.73 L247.10,1180.04 L249.10,1179.35 L251.10,1178.66 L253.10,1177.98 L255.10,1177.30 L257.10,1176.62 L259.10,1175.94 L261.10,1175.26 L263.10,1174.59 L265.10,1173.92 L267.10,1173.24 L269.10,1172.57 L271.10,1171.91 L273.10,1171.24 L275.10,1170.58 L277.10,1169.91 L279.10,1169.25 L281.10,1168.59 L283.10,1167.93 L285.10,1167.28 L287.10,1166.62 L289.10,1165.97 L291.10,1165.32 L293.10,1164.67 L295.10,1164.02 L297.10,1163.38 L299.10,1162.73 L301.10,1162.09 L303.10,1161.45 L305.10,1160.81 L307.10,1160.17 L309.10,1159.53 L311.10,1158.90 L313.10,1158.26 L315.10,1157.63 L317.10,1157.00 L319.10,1156.37 L321.10,1155.74 L323.10,1155.12 L325.10,1154.49 L327.10,1153.87 L329.10,1153.25 L331.10,1152.63 L333.10,1152.01 L335.10,1151.39 L337.10,1150.78 L339.10,1150.16 L341.10,1149.55 L343.10,1148.94 L345.10,1148.33 L347.10,1147.72 L349.10,1147.12 L351.10,1146.51 L353.10,1145.91 L355.10,1145.31 L357.10,1144.71 L359.10,1144.11 L361.10,1143.51 L363.10,1142.91 L365.10,1142.32 L367.10,1141.72 L369.10,1141.13 L371.10,1140.54 L373.10,1139.95 L375.10,1139.36 L377.10,1138.78 L379.10,1138.19 L381.10,1137.61 L383.10,1137.03 L385.10,1136.45 L387.10,1135.87 L389.10,1135.29 L391.10,1134.71 L393.10,1134.14 L395.10,1133.56 L397.10,1132.99 L399.10,1132.42 L401.10,1131.85 L403.10,1131.28 L405.10,1130.71 L407.10,1130.14 L409.10,1129.58 L411.10,1129.01 L413.10,1128.45 L415.10,1127.89 L417.10,1127.33 L419.10,1126.77 L421.10,1126.21 L423.10,1125.66 L425.10,1125.10 L427.10,1124.55 L429.10,1124.00 L431.10,1123.44 L433.10,1122.89 L435.10,1122.35 L437.10,1121.80 L439.10,1121.25 L441.10,1120.71 L443.10,1120.16 L445.10,1119.62 L447.10,1119.08 L449.10,1118.54 L451.10,1118.00 L453.10,1117.46 L455.10,1116.92 L457.10,1116.39 L459.10,1115.85 L461.10,1115.32 L463.10,1114.79 L465.10,1114.25 L467.10,1113.72 L469.10,1113.20 L471.10,1112.67 L473.10,1112.14 L475.10,1111.61 L477.10,1111.09 L479.10,1110.57 L481.10,1110.04 L483.10,1109.52 L485.10,1109.00 L487.10,1108.48 L489.10,1107.96 L491.10,1107.45 L493.10,1106.93 L495.10,1106.42 L497.10,1105.90 L499.10,1105.39 L501.10,1104.88 L503.10,1104.36 L505.10,1103.85 L507.10,1103.35 L509.10,1102.84 L511.10,1102.33 L513.10,1101.82 L515.10,1101.32 L517.10,1100.82 L519.10,1100.31 L521.10,1099.81 L523.10,1099.31 L525.10,1098.81 L527.10,1098.31 L529.10,1097.81 L531.10,1097.31 L533.10,1096.82 L535.10,1096.32 L537.10,1095.83 L539.10,1095.33 L541.10,1094.84 L543.10,1094.35 L545.10,1093.86 L547.10,1093.37 L549.10,1092.88 L551.10,1092.39 L553.10,1091.91 L555.10,1091.42 L557.10,1090.93 L559.10,1090.45 L561.10,1089.97 L563.10,1089.48 L565.10,1089.00 L567.10,1088.52 L569.10,1088.04 L571.10,1087.56 L573.10,1087.08 L575.10,1086.61 L577.10,1086.13 L579.10,1085.65 L581.10,1085.18 L583.10,1084.70 L585.10,1084.23 L587.10,1083.76 L589.10,1083.29 L591.10,1082.82 L593.10,1082.35 L595.10,1081.88 L597.10,1081.41 L599.10,1080.94 L601.10,1080.47 L603.10,1080.01 L605.10,1079.54 L607.10,1079.08 L609.10,1078.62 L611.10,1078.15 L613.10,1077.69 L615.10,1077.23 L617.10,1076.77 L619.10,1076.31 L621.10,1075.85 L623.10,1075.39 L625.10,1074.93 L627.10,1074.48 L629.10,1074.02 L631.10,1073.57 L633.10,1073.11 L635.10,1072.66 L637.10,1072.20 L639.10,1071.75 L641.10,1071.30 L643.10,1070.85 L645.10,1070.40 L647.10,1069.95 L649.10,1069.50 L651.10,1069.05 L653.10,1068.61 L655.10,1068.16 L657.10,1067.71 L659.10,1067.27 L661.10,1066.82 L663.10,1066.38 L665.10,1065.93 L667.10,1065.49 L669.10,1065.05 L671.10,1064.61 L673.10,1064.17 L675.10,1063.73 L677.10,1063.29 L679.10,1062.85 L681.10,1062.41 L683.10,1061.97 L685.10,1061.53 L687.10,1061.10 L689.10,1060.66 L691.10,1060.22 L693.10,1059.79 L695.10,1059.36 L697.10,1058.92 L699.10,1058.49 L701.10,1058.06 L703.10,1057.62 L705.10,1057.19 L707.10,1056.76 L709.10,1056.33 L711.10,1055.90 L713.10,1055.47 L715.10,1055.04 L717.10,1054.61 L719.10,1054.19 L721.10,1053.76 L723.10,1053.33 L725.10,1052.91 L727.10,1052.48 L729.10,1052.06 L731.10,1051.63 L733.10,1051.21 L735.10,1050.78 L737.10,1050.36 L739.10,1049.94 L741.10,1049.52 L743.10,1049.10 L745.10,1048.67 L747.10,1048.25 L749.10,1047.83 L751.10,1047.41 L753.10,1046.99 L755.10,1046.58 L757.10,1046.16 L759.10,1045.74 L761.10,1045.32 L763.10,1044.90 L765.10,1044.49 L767.10,1044.07 L769.10,1043.66 L771.10,1043.24 L773.10,1042.83 L775.10,1042.41 L777.10,1042.00 L779.10,1041.59 L781.10,1041.17 L783.10,1040.76 L785.10,1040.35 L787.10,1039.94 L789.10,1039.53 L791.10,1039.12 L793.10,1038.71 L795.10,1038.30 L797.10,1037.89 L799.10,1037.48 L801.10,1037.07 L803.10,1036.66 L805.10,1036.25 L807.10,1035.85 L809.10,1035.44 L811.10,1035.04 L813.10,1034.63 L815.10,1034.23 L817.10,1033.82 L819.10,1033.42 L821.10,1033.01 L823.10,1032.61 L825.10,1032.21 L827.10,1031.81 L829.10,1031.40 L831.10,1031.00 L833.10,1030.60 L835.10,1030.20 L837.10,1029.80 L839.10,1029.40 L841.10,1029.00 L843.10,1028.61 L845.10,1028.21 L847.10,1027.81 L849.10,1027.41 L851.10,1027.02 L853.10,1026.62 L855.10,1026.23 L857.10,1025.83 L859.10,1025.44 L861.10,1025.04 L863.10,1024.65 L865.10,1024.26 L867.10,1023.86 L869.10,1023.47 L871.10,1023.08 L873.10,1022.69 L875.10,1022.30 L877.10,1021.91 L879.10,1021.52 L881.10,1021.13 L883.10,1020.74 L885.10,1020.35 L887.10,1019.96 L889.10,1019.58 L891.10,1019.19 L893.10,1018.80 L895.10,1018.42 L897.10,1018.03 L899.10,1017.65 L901.10,1017.26 L903.10,1016.88 L905.10,1016.49 L907.10,1016.11 L909.10,1015.73 L911.10,1015.35 L913.10,1014.97 L915.10,1014.58 L917.10,1014.20 L919.10,1013.82 L921.10,1013.44 L923.10,1013.06 L925.10,1012.69 L927.10,1012.31 L929.10,1011.93 L931.10,1011.55 L933.10,1011.18 L935.10,1010.80 L937.10,1010.42 L939.10,1010.05 L941.10,1009.67 L943.10,1009.30 L945.10,1008.93 L947.10,1008.55 L949.10,1008.18 L951.10,1007.81 L953.10,1007.44 L955.10,1007.06 L957.10,1006.69 L959.10,1006.32 L961.10,1005.95 L963.10,1005.58 L965.10,1005.21 L967.10,1004.85 L969.10,1004.48 L971.10,1004.11 L973.10,1003.74 L975.10,1003.38 L977.10,1003.01 L979.10,1002.65 L979.50,1002.57" stroke="#ff0000"/>
</g>
<path d="M314.70,1220.0 v-8.5 M314.70,673.5 v8.5 M480.90,1220.0 v-8.5 M480.90,673.5 v8.5 M647.10,1220.0 v-8.5 M647.10,673.5 v8.5 M813.30,1220.0 v-8.5 M813.30,673.5 v8.5 M148.5,1128.92 h8.5 M979.5,1128.92 h-8.5 M148.5,1037.83 h8.5 M979.5,1037.83 h-8.5 M148.5,946.75 h8.5 M979.5,946.75 h-8.5 M148.5,855.67 h8.5 M979.5,855.67 h-8.5 M148.5,764.58 h8.5 M979.5,764.58 h-8.5" stroke="#000" stroke-width="3" fill="none"/>
<rect x="148.5" y="673.5" width="831.0" height="546.5" fill="none" stroke="#000" stroke-width="3"/>
<g transform="translate(137.24,1258.90) scale(1,1.05)"><text font-size="40.5" fill="#000" stroke="#000" stroke-width="0.45">0</text></g>
<g transform="translate(291.02,1258.90) scale(1,1.05)"><text font-size="40.5" fill="#000" stroke="#000" stroke-width="0.45">10</text><rect x="1.49" y="-4.60" width="8.40" height="6.69" fill="#fff"/><rect x="14.06" y="-4.60" width="8.08" height="6.69" fill="#fff"/></g>
<g transform="translate(458.15,1258.90) scale(1,1.05)"><text font-size="40.5" fill="#000" stroke="#000" stroke-width="0.45">20</text></g>
<g transform="translate(624.60,1258.90) scale(1,1.05)"><text font-size="40.5" fill="#000" stroke="#000" stroke-width="0.45">30</text></g>
<g transform="translate(791.10,1258.90) scale(1,1.05)"><text font-size="40.5" fill="#000" stroke="#000" stroke-width="0.45">40</text></g>
<g transform="translate(956.96,1258.90) scale(1,1.05)"><text font-size="40.5" fill="#000" stroke="#000" stroke-width="0.45">50</text></g>
<g transform="translate(113.96,1235.00) scale(1,1.05)"><text font-size="40.5" fill="#000" stroke="#000" stroke-width="0.45">0</text></g>
<g transform="translate(114.41,1143.92) scale(1,1.05)"><text font-size="40.5" fill="#000" stroke="#000" stroke-width="0.45">2</text></g>
<g transform="translate(113.56,1052.83) scale(1,1.05)"><text font-size="40.5" fill="#000" stroke="#000" stroke-width="0.45">4</text></g>
<g transform="translate(114.16,961.75) scale(1,1.05)"><text font-size="40.5" fill="#000" stroke="#000" stroke-width="0.45">6</text></g>
<g transform="translate(114.14,870.67) scale(1,1.05)"><text font-size="40.5" fill="#000" stroke="#000" stroke-width="0.45">8</text></g>
<g transform="translate(91.43,779.58) scale(1,1.05)"><text font-size="40.5" fill="#000" stroke="#000" stroke-width="0.45">10</text><rect x="1.49" y="-4.60" width="8.40" height="6.69" fill="#fff"/><rect x="14.06" y="-4.60" width="8.08" height="6.69" fill="#fff"/></g>
<g transform="translate(91.89,688.50) scale(1,1.05)"><text font-size="40.5" fill="#000" stroke="#000" stroke-width="0.45">12</text><rect x="1.49" y="-4.60" width="8.40" height="6.69" fill="#fff"/><rect x="14.06" y="-4.60" width="8.08" height="6.69" fill="#fff"/></g>
<g transform="translate(371.36,1302.50) scale(1,1.015)"><text font-size="40.5" fill="#000" stroke="#000" stroke-width="0.45" letter-spacing="-0.07">total rf power P<tspan font-size="31.5" dy="7.88">rf</tspan><tspan font-size="40.5" dy="-7.88"> (kW)</tspan></text></g>
<g transform="translate(39.60,0) rotate(-90) translate(-1187.65,0) scale(1,1.015)"><text font-size="40.5" fill="#000" stroke="#000" stroke-width="0.45" letter-spacing="0.05">electron density (10<tspan font-size="31.5" dy="-15.96">20</tspan><tspan font-size="40.5" dy="15.96"> m</tspan><tspan font-size="31.5" dy="-15.96">–3</tspan><tspan font-size="40.5" dy="15.96">)</tspan></text><rect x="310.78" y="-4.75" width="8.40" height="6.92" fill="#fff"/><rect x="323.36" y="-4.75" width="8.08" height="6.92" fill="#fff"/></g>
<g transform="translate(157.58,715.00) scale(1,1.015)"><text font-size="40.5" fill="#000" stroke="#000" stroke-width="0.45" font-weight="bold" letter-spacing="0.96">(b)</text></g>
<g transform="translate(527.88,753.50) scale(1,1.015)"><text font-size="40.5" fill="#0000ff" stroke="#0000ff" stroke-width="0.45" letter-spacing="-0.35">T<tspan font-size="31.5" dy="7.68">e</tspan><tspan font-size="40.5" dy="-7.68"> = 1.0 eV</tspan></text><rect x="88.15" y="-4.75" width="8.40" height="6.92" fill="#fff"/><rect x="100.73" y="-4.75" width="8.08" height="6.92" fill="#fff"/></g>
<g transform="translate(562.30,952.20) scale(1,1.015)"><text font-size="40.5" fill="#00c800" stroke="#00c800" stroke-width="0.45" letter-spacing="-0.8">1.5 eV</text><rect x="1.49" y="-4.75" width="8.40" height="6.92" fill="#fff"/><rect x="14.06" y="-4.75" width="8.08" height="6.92" fill="#fff"/></g>
<g transform="translate(653.08,1119.10) scale(1,1.015)"><text font-size="40.5" fill="#ff0000" stroke="#ff0000" stroke-width="0.45" letter-spacing="-0.64">2.0 eV</text></g>
</svg></body></html>
